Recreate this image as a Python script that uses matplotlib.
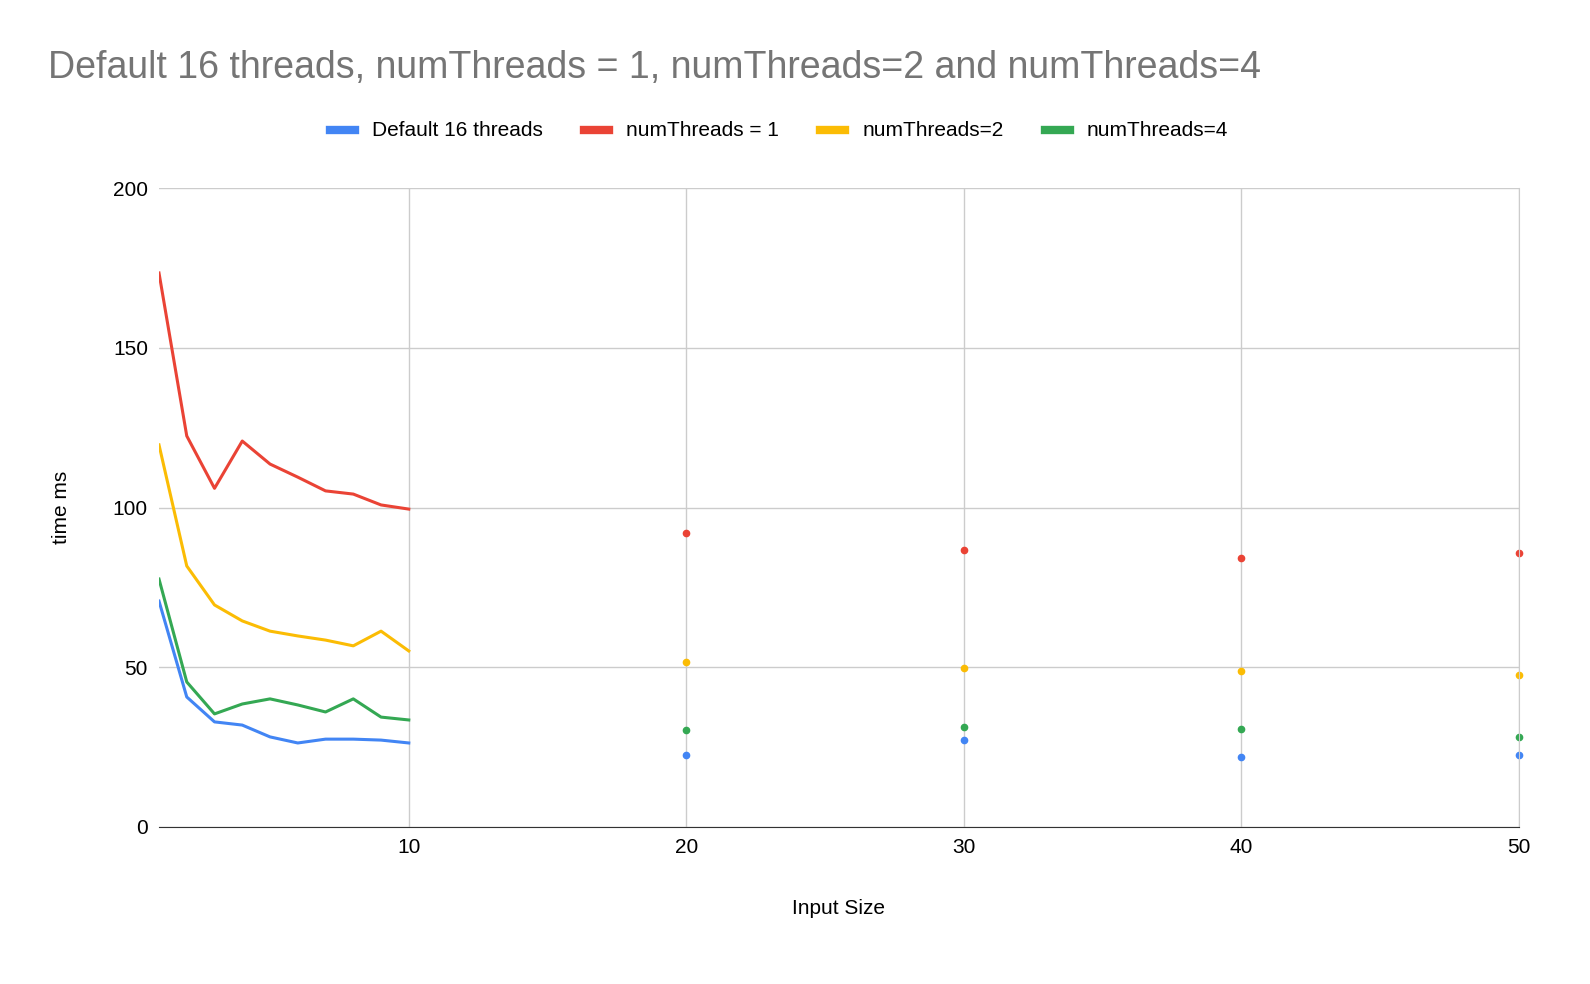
import matplotlib.pyplot as plt
import numpy as np

plt.rcParams['font.family'] = ['Liberation Sans', 'DejaVu Sans']

x = [1,2,3,4,5,6,7,8,9,10,20,30,40,50]
default16 = [70.7,40.7,32.9,31.9,28.2,26.3,27.5,27.5,27.2,26.3,22.5,27.2,21.9,22.5]
nt1 = [173.4,122.4,106,120.8,113.6,109.5,105.2,104.2,100.8,99.5,92,86.7,84.2,85.8]
nt2 = [119.6,81.7,69.5,64.5,61.3,59.8,58.5,56.7,61.3,55.1,51.6,49.8,48.8,47.6]
nt4 = [77.6,45.4,35.4,38.5,40.1,38.2,36,40.1,34.4,33.5,30.4,31.3,30.7,28.2]
names = ["Default 16 threads","numThreads = 1","numThreads=2","numThreads=4"]
colors = ["#4285f4","#ea4335","#fbbc04","#34a853"]

fig = plt.figure(figsize=(15.9,9.84), dpi=100)
ax = fig.add_axes([159/1590, 1-827/984, (1519-159)/1590, (827-188)/984])
for ys, n, c in zip([default16,nt1,nt2,nt4], names, colors):
    ax.plot(x[:10], ys[:10], color=c, lw=2.2, label=n)
    ax.plot(x[10:], ys[10:], 'o', color=c, ms=4.5, clip_on=False)
ax.set_xlim(1,50); ax.set_ylim(0,200)
ax.set_xticks([10,20,30,40,50]); ax.set_yticks([0,50,100,150,200])
ax.grid(True, color="#cccccc", lw=1)
ax.set_axisbelow(True)
for s in ['top','left']: ax.spines[s].set_visible(False)
ax.spines['right'].set_color('#cccccc')
ax.spines['bottom'].set_color('#333333')
ax.tick_params(length=0, labelsize=15, pad=8)
ax.set_xlabel("Input Size", fontsize=15, labelpad=30)
ax.set_ylabel("time ms", fontsize=15, labelpad=30)
fig.text(48/1590, 1-68/984, "Default 16 threads, numThreads = 1, numThreads=2 and numThreads=4",
         fontsize=27, color="#757575", va='center')
fig.legend(loc='center', bbox_to_anchor=(0.49, 1-131/984), ncol=4, frameon=False,
           fontsize=15, handlelength=1.2, handleheight=0.5, columnspacing=2)
for l in fig.legends[0].get_lines(): l.set_linewidth(6)
fig.savefig("out.png", dpi=100)
